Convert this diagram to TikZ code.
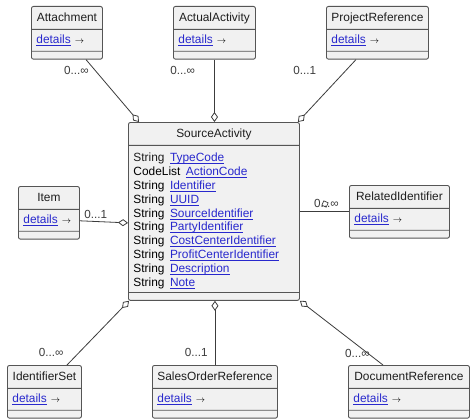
\documentclass[tikz,border=0pt]{standalone}
\usepackage{fontspec}
\setmainfont{Liberation Sans}
\usetikzlibrary{arrows.meta,positioning,shapes.multipart,shapes.geometric}
\definecolor{umlfill}{RGB}{241,241,241}
\definecolor{umlline}{RGB}{85,85,85}
\definecolor{umltext}{RGB}{30,30,30}
\definecolor{umllink}{RGB}{40,40,205}
\definecolor{umlwire}{RGB}{60,60,60}
\newsavebox{\lnkbox}
\newcommand{\lnk}[1]{{\color{umllink}\sbox{\lnkbox}{#1}%
  \rlap{\rule[-2.4pt]{\wd\lnkbox}{0.8pt}}\usebox{\lnkbox}}}
\newcommand{\ttl}[1]{\noindent\makebox[\linewidth]{\rule[-7pt]{0pt}{22pt}#1}}
\newcommand{\dtl}{\noindent\rule[-7pt]{0pt}{21pt}\lnk{details}\hspace{4pt}%
  {\fontsize{9}{9}\selectfont$\rightarrow$}}
\newcommand{\btm}{\noindent\rule{0pt}{7pt}}
\newcommand{\attr}[2]{#1\hspace{5.5pt}\lnk{#2}}

\begin{document}
\begin{tikzpicture}[x=1pt, y=-1pt,
  cls/.style={rectangle split, rectangle split parts=3,
    rectangle split ignore empty parts=false,
    draw=umlline, fill=umlfill, line width=0.9pt, rounded corners=2pt,
    inner xsep=5pt, inner ysep=0pt, anchor=north west, text=umltext,
    font=\fontsize{11.9}{13.8}\selectfont},
  assoc/.style={draw=umlwire, line width=0.8pt,
    -{Diamond[open, length=10pt, width=7pt]}},
  mult/.style={font=\fontsize{11.7}{13.8}\selectfont, text=umlwire, inner sep=1pt}]
\fill[white] (0,0) rectangle (474,420);
% Top row
\node[cls, text width=61pt] (att) at (31,6)
  {\ttl{Attachment}\nodepart{two}\dtl\nodepart{three}\btm};
\node[cls, text width=72pt] (act) at (173,6)
  {\ttl{ActualActivity}\nodepart{two}\dtl\nodepart{three}\btm};
\node[cls, text width=92pt] (proj) at (326,6)
  {\ttl{ProjectReference}\nodepart{two}\dtl\nodepart{three}\btm};
% Center class
\node[cls, text width=161pt] (sa) at (128,122)
  {\ttl{SourceActivity}
   \nodepart{two}\noindent\rule{0pt}{16pt}\attr{String}{TypeCode}\\
   \attr{CodeList}{ActionCode}\\
   \attr{String}{Identifier}\\
   \attr{String}{UUID}\\
   \attr{String}{SourceIdentifier}\\
   \attr{String}{PartyIdentifier}\\
   \attr{String}{CostCenterIdentifier}\\
   \attr{String}{ProfitCenterIdentifier}\\
   \attr{String}{Description}\\
   \attr{String}{Note}\rule[-6pt]{0pt}{6pt}
   \nodepart{three}\btm};
% Sides
\node[cls, text width=51pt] (item) at (18,186)
  {\ttl{Item}\nodepart{two}\dtl\nodepart{three}\btm};
\node[cls, text width=90pt] (rel) at (349,185)
  {\ttl{RelatedIdentifier}\nodepart{two}\dtl\nodepart{three}\btm};
% Bottom row
\node[cls, text width=64pt] (iset) at (7,365)
  {\ttl{IdentifierSet}\nodepart{two}\dtl\nodepart{three}\btm};
\node[cls, text width=115pt] (sor) at (152,365)
  {\ttl{SalesOrderReference}\nodepart{two}\dtl\nodepart{three}\btm};
\node[cls, text width=111pt] (doc) at (348,365)
  {\ttl{DocumentReference}\nodepart{two}\dtl\nodepart{three}\btm};
% Associations
\draw[assoc] ([xshift=55pt]att.south west) -- node[mult, pos=0.18, left=5.5pt]{0...∞} ([xshift=11pt]sa.north west);
\draw[assoc] (act.south) -- node[mult, pos=0.18, left=18pt]{0...∞} (act.south |- sa.north);
\draw[assoc] ([xshift=30pt]proj.south west) -- node[mult, pos=0.18, left=28pt]{0...1} ([xshift=-2pt]sa.north east);
\draw[assoc] ([yshift=-8pt]item.east) -- node[mult, pos=0.33, above=1pt]{0...1} ([yshift=-11.5pt]sa.west);
\draw[assoc, -] (sa.east |- rel.west) -- node[mult, pos=0.54, above=3pt]{0...∞} (rel.west);
\node[diamond, draw=umlwire, line width=0.7pt, inner sep=0pt,
      minimum width=7pt, minimum height=7pt, rotate=20] (reldia) at (325,204) {};
\draw[assoc] ([xshift=60pt]iset.north west) -- node[mult, pos=0.19, left=14pt]{0...∞} ([xshift=1pt]sa.south west);
\draw[assoc] (sor.north) -- node[mult, pos=0.19, left=6pt]{0...1} (sor.north |- sa.south);
\draw[assoc] ([xshift=35pt]doc.north west) -- node[mult, pos=0.18, left=-3pt]{0...∞} (sa.south east);
\end{tikzpicture}
\end{document}
